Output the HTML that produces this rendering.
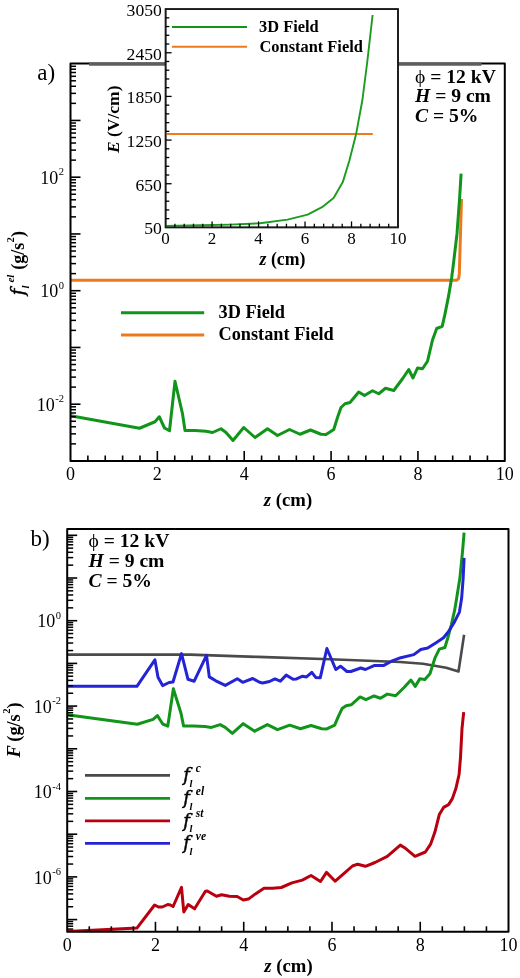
<!DOCTYPE html>
<html><head><meta charset="utf-8"><title>Plot</title>
<style>html,body{margin:0;padding:0;background:#fff;width:520px;height:978px;overflow:hidden}svg{display:block}</style>
</head><body>
<svg width="520" height="978" viewBox="0 0 520 978" font-family="'Liberation Serif', 'Times New Roman', serif">
<rect width="520" height="978" fill="#fff"/>
<polyline points="70.5,280.3 456.5,280.3 458.6,278.6 459.3,274 461.5,199" fill="none" stroke="#ec7a1c" stroke-width="3" stroke-linejoin="round" stroke-linecap="butt" />
<polyline points="70.5,415.75 139.5,428.25 155,421.75 159.25,416.75 164.5,428 169.5,430.75 175,381.25 182.5,413.75 185,430.5 195,430.5 206,431.25 212.5,432.5 221,428.75 226,432.5 233,440.5 243.75,427.5 255,437.5 267.5,428.75 277.5,435.5 289.5,429.5 300,434.25 310.5,430 321,434.25 326,434.5 333.75,429.5 337.5,417.5 341,407.5 345,403.75 350,402.5 358.75,392 364.5,395.5 372.5,390.75 378.75,393.75 385.5,388.25 393.75,390.5 402.5,378.75 408.75,369.5 413,378 417.5,368 422.5,368.75 427.5,361.25 432.5,340 436.7,328.5 442.2,326.3 444.9,314.4 448.6,295.9 451.7,277.4 453.3,265 457,233.7 459.7,196.8 461.1,173.7" fill="none" stroke="#10951a" stroke-width="3" stroke-linejoin="round" stroke-linecap="butt" />
<rect x="70.5" y="63.5" width="434.3" height="397.5" fill="none" stroke="#000" stroke-width="2" stroke-linejoin="round"/>
<line x1="89" y1="64.1" x2="481.5" y2="64.1" stroke="#5e5e5e" stroke-width="3.4" stroke-linecap="butt"/>
<line x1="70.5" y1="460.95" x2="80.5" y2="460.95" stroke="#000" stroke-width="1.6" stroke-linecap="butt"/>
<line x1="70.5" y1="443.87" x2="76" y2="443.87" stroke="#000" stroke-width="1.5" stroke-linecap="butt"/>
<line x1="70.5" y1="433.87" x2="76" y2="433.87" stroke="#000" stroke-width="1.5" stroke-linecap="butt"/>
<line x1="70.5" y1="426.78" x2="76" y2="426.78" stroke="#000" stroke-width="1.5" stroke-linecap="butt"/>
<line x1="70.5" y1="421.28" x2="76" y2="421.28" stroke="#000" stroke-width="1.5" stroke-linecap="butt"/>
<line x1="70.5" y1="416.79" x2="76" y2="416.79" stroke="#000" stroke-width="1.5" stroke-linecap="butt"/>
<line x1="70.5" y1="412.99" x2="76" y2="412.99" stroke="#000" stroke-width="1.5" stroke-linecap="butt"/>
<line x1="70.5" y1="409.7" x2="76" y2="409.7" stroke="#000" stroke-width="1.5" stroke-linecap="butt"/>
<line x1="70.5" y1="406.8" x2="76" y2="406.8" stroke="#000" stroke-width="1.5" stroke-linecap="butt"/>
<line x1="70.5" y1="404.2" x2="80.5" y2="404.2" stroke="#000" stroke-width="1.6" stroke-linecap="butt"/>
<line x1="70.5" y1="387.12" x2="76" y2="387.12" stroke="#000" stroke-width="1.5" stroke-linecap="butt"/>
<line x1="70.5" y1="377.12" x2="76" y2="377.12" stroke="#000" stroke-width="1.5" stroke-linecap="butt"/>
<line x1="70.5" y1="370.03" x2="76" y2="370.03" stroke="#000" stroke-width="1.5" stroke-linecap="butt"/>
<line x1="70.5" y1="364.53" x2="76" y2="364.53" stroke="#000" stroke-width="1.5" stroke-linecap="butt"/>
<line x1="70.5" y1="360.04" x2="76" y2="360.04" stroke="#000" stroke-width="1.5" stroke-linecap="butt"/>
<line x1="70.5" y1="356.24" x2="76" y2="356.24" stroke="#000" stroke-width="1.5" stroke-linecap="butt"/>
<line x1="70.5" y1="352.95" x2="76" y2="352.95" stroke="#000" stroke-width="1.5" stroke-linecap="butt"/>
<line x1="70.5" y1="350.05" x2="76" y2="350.05" stroke="#000" stroke-width="1.5" stroke-linecap="butt"/>
<line x1="70.5" y1="347.45" x2="80.5" y2="347.45" stroke="#000" stroke-width="1.6" stroke-linecap="butt"/>
<line x1="70.5" y1="330.37" x2="76" y2="330.37" stroke="#000" stroke-width="1.5" stroke-linecap="butt"/>
<line x1="70.5" y1="320.37" x2="76" y2="320.37" stroke="#000" stroke-width="1.5" stroke-linecap="butt"/>
<line x1="70.5" y1="313.28" x2="76" y2="313.28" stroke="#000" stroke-width="1.5" stroke-linecap="butt"/>
<line x1="70.5" y1="307.78" x2="76" y2="307.78" stroke="#000" stroke-width="1.5" stroke-linecap="butt"/>
<line x1="70.5" y1="303.29" x2="76" y2="303.29" stroke="#000" stroke-width="1.5" stroke-linecap="butt"/>
<line x1="70.5" y1="299.49" x2="76" y2="299.49" stroke="#000" stroke-width="1.5" stroke-linecap="butt"/>
<line x1="70.5" y1="296.2" x2="76" y2="296.2" stroke="#000" stroke-width="1.5" stroke-linecap="butt"/>
<line x1="70.5" y1="293.3" x2="76" y2="293.3" stroke="#000" stroke-width="1.5" stroke-linecap="butt"/>
<line x1="70.5" y1="290.7" x2="80.5" y2="290.7" stroke="#000" stroke-width="1.6" stroke-linecap="butt"/>
<line x1="70.5" y1="273.62" x2="76" y2="273.62" stroke="#000" stroke-width="1.5" stroke-linecap="butt"/>
<line x1="70.5" y1="263.62" x2="76" y2="263.62" stroke="#000" stroke-width="1.5" stroke-linecap="butt"/>
<line x1="70.5" y1="256.53" x2="76" y2="256.53" stroke="#000" stroke-width="1.5" stroke-linecap="butt"/>
<line x1="70.5" y1="251.03" x2="76" y2="251.03" stroke="#000" stroke-width="1.5" stroke-linecap="butt"/>
<line x1="70.5" y1="246.54" x2="76" y2="246.54" stroke="#000" stroke-width="1.5" stroke-linecap="butt"/>
<line x1="70.5" y1="242.74" x2="76" y2="242.74" stroke="#000" stroke-width="1.5" stroke-linecap="butt"/>
<line x1="70.5" y1="239.45" x2="76" y2="239.45" stroke="#000" stroke-width="1.5" stroke-linecap="butt"/>
<line x1="70.5" y1="236.55" x2="76" y2="236.55" stroke="#000" stroke-width="1.5" stroke-linecap="butt"/>
<line x1="70.5" y1="233.95" x2="80.5" y2="233.95" stroke="#000" stroke-width="1.6" stroke-linecap="butt"/>
<line x1="70.5" y1="216.87" x2="76" y2="216.87" stroke="#000" stroke-width="1.5" stroke-linecap="butt"/>
<line x1="70.5" y1="206.87" x2="76" y2="206.87" stroke="#000" stroke-width="1.5" stroke-linecap="butt"/>
<line x1="70.5" y1="199.78" x2="76" y2="199.78" stroke="#000" stroke-width="1.5" stroke-linecap="butt"/>
<line x1="70.5" y1="194.28" x2="76" y2="194.28" stroke="#000" stroke-width="1.5" stroke-linecap="butt"/>
<line x1="70.5" y1="189.79" x2="76" y2="189.79" stroke="#000" stroke-width="1.5" stroke-linecap="butt"/>
<line x1="70.5" y1="185.99" x2="76" y2="185.99" stroke="#000" stroke-width="1.5" stroke-linecap="butt"/>
<line x1="70.5" y1="182.7" x2="76" y2="182.7" stroke="#000" stroke-width="1.5" stroke-linecap="butt"/>
<line x1="70.5" y1="179.8" x2="76" y2="179.8" stroke="#000" stroke-width="1.5" stroke-linecap="butt"/>
<line x1="70.5" y1="177.2" x2="80.5" y2="177.2" stroke="#000" stroke-width="1.6" stroke-linecap="butt"/>
<line x1="70.5" y1="160.12" x2="76" y2="160.12" stroke="#000" stroke-width="1.5" stroke-linecap="butt"/>
<line x1="70.5" y1="150.12" x2="76" y2="150.12" stroke="#000" stroke-width="1.5" stroke-linecap="butt"/>
<line x1="70.5" y1="143.03" x2="76" y2="143.03" stroke="#000" stroke-width="1.5" stroke-linecap="butt"/>
<line x1="70.5" y1="137.53" x2="76" y2="137.53" stroke="#000" stroke-width="1.5" stroke-linecap="butt"/>
<line x1="70.5" y1="133.04" x2="76" y2="133.04" stroke="#000" stroke-width="1.5" stroke-linecap="butt"/>
<line x1="70.5" y1="129.24" x2="76" y2="129.24" stroke="#000" stroke-width="1.5" stroke-linecap="butt"/>
<line x1="70.5" y1="125.95" x2="76" y2="125.95" stroke="#000" stroke-width="1.5" stroke-linecap="butt"/>
<line x1="70.5" y1="123.05" x2="76" y2="123.05" stroke="#000" stroke-width="1.5" stroke-linecap="butt"/>
<line x1="70.5" y1="120.45" x2="80.5" y2="120.45" stroke="#000" stroke-width="1.6" stroke-linecap="butt"/>
<line x1="70.5" y1="103.37" x2="76" y2="103.37" stroke="#000" stroke-width="1.5" stroke-linecap="butt"/>
<line x1="70.5" y1="93.37" x2="76" y2="93.37" stroke="#000" stroke-width="1.5" stroke-linecap="butt"/>
<line x1="70.5" y1="86.28" x2="76" y2="86.28" stroke="#000" stroke-width="1.5" stroke-linecap="butt"/>
<line x1="70.5" y1="80.78" x2="76" y2="80.78" stroke="#000" stroke-width="1.5" stroke-linecap="butt"/>
<line x1="70.5" y1="76.29" x2="76" y2="76.29" stroke="#000" stroke-width="1.5" stroke-linecap="butt"/>
<line x1="70.5" y1="72.49" x2="76" y2="72.49" stroke="#000" stroke-width="1.5" stroke-linecap="butt"/>
<line x1="70.5" y1="69.2" x2="76" y2="69.2" stroke="#000" stroke-width="1.5" stroke-linecap="butt"/>
<line x1="70.5" y1="66.3" x2="76" y2="66.3" stroke="#000" stroke-width="1.5" stroke-linecap="butt"/>
<line x1="87.87" y1="461" x2="87.87" y2="455.5" stroke="#000" stroke-width="1.6" stroke-linecap="butt"/>
<line x1="105.24" y1="461" x2="105.24" y2="455.5" stroke="#000" stroke-width="1.6" stroke-linecap="butt"/>
<line x1="122.62" y1="461" x2="122.62" y2="455.5" stroke="#000" stroke-width="1.6" stroke-linecap="butt"/>
<line x1="139.99" y1="461" x2="139.99" y2="455.5" stroke="#000" stroke-width="1.6" stroke-linecap="butt"/>
<line x1="157.36" y1="461" x2="157.36" y2="451" stroke="#000" stroke-width="1.6" stroke-linecap="butt"/>
<line x1="174.73" y1="461" x2="174.73" y2="455.5" stroke="#000" stroke-width="1.6" stroke-linecap="butt"/>
<line x1="192.1" y1="461" x2="192.1" y2="455.5" stroke="#000" stroke-width="1.6" stroke-linecap="butt"/>
<line x1="209.48" y1="461" x2="209.48" y2="455.5" stroke="#000" stroke-width="1.6" stroke-linecap="butt"/>
<line x1="226.85" y1="461" x2="226.85" y2="455.5" stroke="#000" stroke-width="1.6" stroke-linecap="butt"/>
<line x1="244.22" y1="461" x2="244.22" y2="451" stroke="#000" stroke-width="1.6" stroke-linecap="butt"/>
<line x1="261.59" y1="461" x2="261.59" y2="455.5" stroke="#000" stroke-width="1.6" stroke-linecap="butt"/>
<line x1="278.96" y1="461" x2="278.96" y2="455.5" stroke="#000" stroke-width="1.6" stroke-linecap="butt"/>
<line x1="296.34" y1="461" x2="296.34" y2="455.5" stroke="#000" stroke-width="1.6" stroke-linecap="butt"/>
<line x1="313.71" y1="461" x2="313.71" y2="455.5" stroke="#000" stroke-width="1.6" stroke-linecap="butt"/>
<line x1="331.08" y1="461" x2="331.08" y2="451" stroke="#000" stroke-width="1.6" stroke-linecap="butt"/>
<line x1="348.45" y1="461" x2="348.45" y2="455.5" stroke="#000" stroke-width="1.6" stroke-linecap="butt"/>
<line x1="365.82" y1="461" x2="365.82" y2="455.5" stroke="#000" stroke-width="1.6" stroke-linecap="butt"/>
<line x1="383.2" y1="461" x2="383.2" y2="455.5" stroke="#000" stroke-width="1.6" stroke-linecap="butt"/>
<line x1="400.57" y1="461" x2="400.57" y2="455.5" stroke="#000" stroke-width="1.6" stroke-linecap="butt"/>
<line x1="417.94" y1="461" x2="417.94" y2="451" stroke="#000" stroke-width="1.6" stroke-linecap="butt"/>
<line x1="435.31" y1="461" x2="435.31" y2="455.5" stroke="#000" stroke-width="1.6" stroke-linecap="butt"/>
<line x1="452.68" y1="461" x2="452.68" y2="455.5" stroke="#000" stroke-width="1.6" stroke-linecap="butt"/>
<line x1="470.06" y1="461" x2="470.06" y2="455.5" stroke="#000" stroke-width="1.6" stroke-linecap="butt"/>
<line x1="487.43" y1="461" x2="487.43" y2="455.5" stroke="#000" stroke-width="1.6" stroke-linecap="butt"/>
<text x="70.5" y="479.8" font-size="18" text-anchor="middle" font-weight="normal" font-style="normal" >0</text>
<text x="157.36" y="479.8" font-size="18" text-anchor="middle" font-weight="normal" font-style="normal" >2</text>
<text x="244.22" y="479.8" font-size="18" text-anchor="middle" font-weight="normal" font-style="normal" >4</text>
<text x="331.08" y="479.8" font-size="18" text-anchor="middle" font-weight="normal" font-style="normal" >6</text>
<text x="417.94" y="479.8" font-size="18" text-anchor="middle" font-weight="normal" font-style="normal" >8</text>
<text x="504.8" y="479.8" font-size="18" text-anchor="middle" font-weight="normal" font-style="normal" >10</text>
<text x="64" y="183.8" font-size="18" text-anchor="end">10<tspan font-size="10.5" dy="-8.6" dx="0.6">2</tspan></text>
<text x="64" y="297.3" font-size="18" text-anchor="end">10<tspan font-size="10.5" dy="-8.6" dx="0.6">0</tspan></text>
<text x="64" y="410.8" font-size="18" text-anchor="end">10<tspan font-size="10.5" dy="-8.6" dx="0.6">-2</tspan></text>
<text x="288" y="505.6" font-size="18.7" font-weight="bold" text-anchor="middle"><tspan font-style="italic">z</tspan> (cm)</text>
<g transform="translate(24,298) rotate(-90)" font-weight="bold"><text x="2.8" y="0" font-size="18" font-style="italic" font-weight="normal" font-family="DejaVu Serif, serif" stroke="#000" stroke-width="0.45">f</text><text x="9.6" y="5.2" font-size="10.5" font-style="italic">l</text><text x="15.4" y="-9.8" font-size="11.2" font-style="italic">el</text><text x="28.3" y="0" font-size="18">(g/s</text><text x="55.6" y="-9.6" font-size="10.5">2</text><text x="61" y="0" font-size="18">)</text></g>
<line x1="121" y1="312.7" x2="204.2" y2="312.7" stroke="#10951a" stroke-width="3" stroke-linecap="butt"/>
<line x1="121" y1="335.1" x2="204.2" y2="335.1" stroke="#ec7a1c" stroke-width="3" stroke-linecap="butt"/>
<text x="218.5" y="318.2" font-size="18.3" text-anchor="start" font-weight="bold" font-style="normal" >3D Field</text>
<text x="218.5" y="340.2" font-size="18.3" text-anchor="start" font-weight="bold" font-style="normal" >Constant Field</text>
<text transform="translate(415,83) scale(1.06,1)" font-size="18.5" font-weight="bold"><tspan font-weight="normal">ϕ</tspan> = 12 kV</text>
<text transform="translate(415,102.25) scale(1.06,1)" font-size="18.5" font-weight="bold"><tspan font-style="italic">H</tspan> = 9 cm</text>
<text transform="translate(415,121.5) scale(1.06,1)" font-size="18.5" font-weight="bold"><tspan font-style="italic">C</tspan> = 5%</text>
<text x="37.2" y="80.4" font-size="23" text-anchor="start" font-weight="normal" font-style="normal" >a)</text>
<rect x="165.6" y="9.1" width="232.4" height="218.3" fill="#fff" stroke="#000" stroke-width="1.6"/>
<line x1="165.6" y1="134.02" x2="372.76" y2="134.02" stroke="#ec7a1c" stroke-width="2" stroke-linecap="butt"/>
<polyline points="165.6,226 200,225.3 230,224.6 260,223.3 287.5,219.6 307.6,214.7 322,207.2 333.6,198 342.8,182.1 349.4,160.5 356,134.6 362.4,100 367.5,60 372.6,15" fill="none" stroke="#1a9c1f" stroke-width="1.9" stroke-linejoin="round" stroke-linecap="butt" />
<rect x="165.6" y="9.1" width="232.4" height="218.3" fill="none" stroke="#1a1a1a" stroke-width="1.5"/>
<line x1="165.6" y1="218.67" x2="169.3" y2="218.67" stroke="#000" stroke-width="1.3" stroke-linecap="butt"/>
<line x1="165.6" y1="209.94" x2="169.3" y2="209.94" stroke="#000" stroke-width="1.3" stroke-linecap="butt"/>
<line x1="165.6" y1="201.2" x2="169.3" y2="201.2" stroke="#000" stroke-width="1.3" stroke-linecap="butt"/>
<line x1="165.6" y1="192.47" x2="169.3" y2="192.47" stroke="#000" stroke-width="1.3" stroke-linecap="butt"/>
<line x1="165.6" y1="183.74" x2="171.6" y2="183.74" stroke="#000" stroke-width="1.3" stroke-linecap="butt"/>
<line x1="165.6" y1="175.01" x2="169.3" y2="175.01" stroke="#000" stroke-width="1.3" stroke-linecap="butt"/>
<line x1="165.6" y1="166.28" x2="169.3" y2="166.28" stroke="#000" stroke-width="1.3" stroke-linecap="butt"/>
<line x1="165.6" y1="157.54" x2="169.3" y2="157.54" stroke="#000" stroke-width="1.3" stroke-linecap="butt"/>
<line x1="165.6" y1="148.81" x2="169.3" y2="148.81" stroke="#000" stroke-width="1.3" stroke-linecap="butt"/>
<line x1="165.6" y1="140.08" x2="171.6" y2="140.08" stroke="#000" stroke-width="1.3" stroke-linecap="butt"/>
<line x1="165.6" y1="131.35" x2="169.3" y2="131.35" stroke="#000" stroke-width="1.3" stroke-linecap="butt"/>
<line x1="165.6" y1="122.62" x2="169.3" y2="122.62" stroke="#000" stroke-width="1.3" stroke-linecap="butt"/>
<line x1="165.6" y1="113.88" x2="169.3" y2="113.88" stroke="#000" stroke-width="1.3" stroke-linecap="butt"/>
<line x1="165.6" y1="105.15" x2="169.3" y2="105.15" stroke="#000" stroke-width="1.3" stroke-linecap="butt"/>
<line x1="165.6" y1="96.42" x2="171.6" y2="96.42" stroke="#000" stroke-width="1.3" stroke-linecap="butt"/>
<line x1="165.6" y1="87.69" x2="169.3" y2="87.69" stroke="#000" stroke-width="1.3" stroke-linecap="butt"/>
<line x1="165.6" y1="78.96" x2="169.3" y2="78.96" stroke="#000" stroke-width="1.3" stroke-linecap="butt"/>
<line x1="165.6" y1="70.22" x2="169.3" y2="70.22" stroke="#000" stroke-width="1.3" stroke-linecap="butt"/>
<line x1="165.6" y1="61.49" x2="169.3" y2="61.49" stroke="#000" stroke-width="1.3" stroke-linecap="butt"/>
<line x1="165.6" y1="52.76" x2="171.6" y2="52.76" stroke="#000" stroke-width="1.3" stroke-linecap="butt"/>
<line x1="165.6" y1="44.03" x2="169.3" y2="44.03" stroke="#000" stroke-width="1.3" stroke-linecap="butt"/>
<line x1="165.6" y1="35.3" x2="169.3" y2="35.3" stroke="#000" stroke-width="1.3" stroke-linecap="butt"/>
<line x1="165.6" y1="26.56" x2="169.3" y2="26.56" stroke="#000" stroke-width="1.3" stroke-linecap="butt"/>
<line x1="165.6" y1="17.83" x2="169.3" y2="17.83" stroke="#000" stroke-width="1.3" stroke-linecap="butt"/>
<text x="161.8" y="234.4" font-size="17.6" text-anchor="end" font-weight="normal" font-style="normal" >50</text>
<text x="161.8" y="190.74" font-size="17.6" text-anchor="end" font-weight="normal" font-style="normal" >650</text>
<text x="161.8" y="147.08" font-size="17.6" text-anchor="end" font-weight="normal" font-style="normal" >1250</text>
<text x="161.8" y="103.42" font-size="17.6" text-anchor="end" font-weight="normal" font-style="normal" >1850</text>
<text x="161.8" y="59.76" font-size="17.6" text-anchor="end" font-weight="normal" font-style="normal" >2450</text>
<text x="161.8" y="16.1" font-size="17.6" text-anchor="end" font-weight="normal" font-style="normal" >3050</text>
<line x1="174.9" y1="227.4" x2="174.9" y2="223.7" stroke="#000" stroke-width="1.3" stroke-linecap="butt"/>
<line x1="184.19" y1="227.4" x2="184.19" y2="223.7" stroke="#000" stroke-width="1.3" stroke-linecap="butt"/>
<line x1="193.49" y1="227.4" x2="193.49" y2="223.7" stroke="#000" stroke-width="1.3" stroke-linecap="butt"/>
<line x1="202.78" y1="227.4" x2="202.78" y2="223.7" stroke="#000" stroke-width="1.3" stroke-linecap="butt"/>
<line x1="212.08" y1="227.4" x2="212.08" y2="221.4" stroke="#000" stroke-width="1.3" stroke-linecap="butt"/>
<line x1="221.38" y1="227.4" x2="221.38" y2="223.7" stroke="#000" stroke-width="1.3" stroke-linecap="butt"/>
<line x1="230.67" y1="227.4" x2="230.67" y2="223.7" stroke="#000" stroke-width="1.3" stroke-linecap="butt"/>
<line x1="239.97" y1="227.4" x2="239.97" y2="223.7" stroke="#000" stroke-width="1.3" stroke-linecap="butt"/>
<line x1="249.26" y1="227.4" x2="249.26" y2="223.7" stroke="#000" stroke-width="1.3" stroke-linecap="butt"/>
<line x1="258.56" y1="227.4" x2="258.56" y2="221.4" stroke="#000" stroke-width="1.3" stroke-linecap="butt"/>
<line x1="267.86" y1="227.4" x2="267.86" y2="223.7" stroke="#000" stroke-width="1.3" stroke-linecap="butt"/>
<line x1="277.15" y1="227.4" x2="277.15" y2="223.7" stroke="#000" stroke-width="1.3" stroke-linecap="butt"/>
<line x1="286.45" y1="227.4" x2="286.45" y2="223.7" stroke="#000" stroke-width="1.3" stroke-linecap="butt"/>
<line x1="295.74" y1="227.4" x2="295.74" y2="223.7" stroke="#000" stroke-width="1.3" stroke-linecap="butt"/>
<line x1="305.04" y1="227.4" x2="305.04" y2="221.4" stroke="#000" stroke-width="1.3" stroke-linecap="butt"/>
<line x1="314.34" y1="227.4" x2="314.34" y2="223.7" stroke="#000" stroke-width="1.3" stroke-linecap="butt"/>
<line x1="323.63" y1="227.4" x2="323.63" y2="223.7" stroke="#000" stroke-width="1.3" stroke-linecap="butt"/>
<line x1="332.93" y1="227.4" x2="332.93" y2="223.7" stroke="#000" stroke-width="1.3" stroke-linecap="butt"/>
<line x1="342.22" y1="227.4" x2="342.22" y2="223.7" stroke="#000" stroke-width="1.3" stroke-linecap="butt"/>
<line x1="351.52" y1="227.4" x2="351.52" y2="221.4" stroke="#000" stroke-width="1.3" stroke-linecap="butt"/>
<line x1="360.82" y1="227.4" x2="360.82" y2="223.7" stroke="#000" stroke-width="1.3" stroke-linecap="butt"/>
<line x1="370.11" y1="227.4" x2="370.11" y2="223.7" stroke="#000" stroke-width="1.3" stroke-linecap="butt"/>
<line x1="379.41" y1="227.4" x2="379.41" y2="223.7" stroke="#000" stroke-width="1.3" stroke-linecap="butt"/>
<line x1="388.7" y1="227.4" x2="388.7" y2="223.7" stroke="#000" stroke-width="1.3" stroke-linecap="butt"/>
<text x="165.6" y="243.6" font-size="17" text-anchor="middle" font-weight="normal" font-style="normal" >0</text>
<text x="212.08" y="243.6" font-size="17" text-anchor="middle" font-weight="normal" font-style="normal" >2</text>
<text x="258.56" y="243.6" font-size="17" text-anchor="middle" font-weight="normal" font-style="normal" >4</text>
<text x="305.04" y="243.6" font-size="17" text-anchor="middle" font-weight="normal" font-style="normal" >6</text>
<text x="351.52" y="243.6" font-size="17" text-anchor="middle" font-weight="normal" font-style="normal" >8</text>
<text x="398" y="243.6" font-size="17" text-anchor="middle" font-weight="normal" font-style="normal" >10</text>
<text x="282.5" y="264.8" font-size="17.8" font-weight="bold" text-anchor="middle"><tspan font-style="italic">z</tspan> (cm)</text>
<text transform="translate(118.8,119.3) rotate(-90)" font-size="17.5" font-weight="bold" text-anchor="middle"><tspan font-style="italic">E</tspan> (V/cm)</text>
<line x1="172" y1="27" x2="247" y2="27" stroke="#10951a" stroke-width="2" stroke-linecap="butt"/>
<line x1="172" y1="46.7" x2="247" y2="46.7" stroke="#ec7a1c" stroke-width="2" stroke-linecap="butt"/>
<text x="259" y="32.2" font-size="16.4" text-anchor="start" font-weight="bold" font-style="normal" >3D Field</text>
<text x="259.5" y="51.7" font-size="16.4" text-anchor="start" font-weight="bold" font-style="normal" >Constant Field</text>
<clipPath id="cb"><rect x="67.2" y="529.0" width="441.3" height="402.8"/></clipPath>
<g clip-path="url(#cb)">
<polyline points="67.2,654.6 190,654.6 258,656.9 330,659.2 400,662 423,663.8 446.2,667.7 458.5,671.5 464.1,634.8" fill="none" stroke="#4a4a4a" stroke-width="2.6" stroke-linejoin="round" stroke-linecap="butt" />
<polyline points="67.2,931.6 136.9,928.1 154.6,905 158.5,907 162.3,907 167.7,904.5 170.3,905 173.1,906.5 181.5,887.3 183.8,911.9 188.2,904.5 194.6,908.8 205.4,891.2 207.3,891 216.4,896.2 221.6,894.8 229.4,896.2 237.2,896.5 243.3,900 248.4,899.1 255.4,893.9 264,888.2 272.7,888.2 281.3,887.5 291.9,882.9 302.3,880.1 311,875.5 320.5,881.5 326.5,872.4 335.2,881.2 343.8,873.7 352.5,866 357.7,864.2 365.4,866.3 375,862.5 387.3,856.3 400.3,845.1 404.6,847.7 415,856.3 425.4,852 430.6,844.2 434.9,832.1 439.3,814.6 443.6,807.4 448.6,804.6 452.2,798.9 455.8,788.8 459.1,774.5 460.5,757.3 462,728.7 463.7,712.2" fill="none" stroke="#b8000e" stroke-width="3" stroke-linejoin="round" stroke-linecap="butt" />
<polyline points="67.2,714.79 137.31,724.2 153.06,719.31 157.38,715.54 162.72,724.01 167.8,726.08 173.38,688.83 181.01,713.29 183.55,725.89 193.71,725.89 204.88,726.45 211.49,727.39 220.13,724.57 225.21,727.39 232.32,733.41 243.24,723.63 254.67,731.16 267.38,724.57 277.54,729.65 289.73,725.14 300.4,728.71 311.07,725.51 321.74,728.71 326.82,728.9 334.69,725.14 338.5,716.11 342.06,708.58 346.12,705.76 351.2,704.82 360.1,696.92 365.94,699.55 374.07,695.98 380.42,698.24 387.28,694.1 395.66,695.79 404.55,686.95 410.9,679.99 415.22,686.39 419.79,678.86 424.87,679.43 429.95,673.78 435.03,657.79 439.3,649.14 444.89,647.49 447.63,638.53 451.39,624.61 454.54,610.69 456.17,601.36 459.93,577.81 462.67,550.05 464.1,532.67" fill="none" stroke="#10951a" stroke-width="3" stroke-linejoin="round" stroke-linecap="butt" />
<polyline points="67.2,686.3 136.9,686.3 154.9,659.8 158,677.3 162.6,685.6 169.1,682.5 173,682 181.5,653.6 188,679.3 194.2,681.2 206.5,655.4 209.3,676.9 215.8,680.8 225.3,685.4 237.3,678.8 242.7,682.3 252.7,678.5 259.6,682.3 262.6,683 269.5,681.5 274.9,678.9 280.3,681.2 286.2,675.1 293.1,679.2 296.5,678.9 302.6,676.2 306.5,676.9 311.8,672.3 315.7,677.4 320.3,677.7 326.9,648.5 335.8,669.5 340.5,666.2 346.9,671.5 350.8,671.5 360.8,668 365.4,669.5 374.6,665.4 383.8,665.4 391.5,661.2 400.8,657.7 413.8,654.6 420.8,649.5 427.7,648 436.1,642.7 443.5,637.8 448.4,631.7 454.5,621.9 459.4,612.1 461.6,598.6 463.1,579 464.1,557.9" fill="none" stroke="#2424d6" stroke-width="3" stroke-linejoin="round" stroke-linecap="butt" />
</g>
<rect x="67.2" y="529.0" width="441.3" height="402.8" fill="none" stroke="#000" stroke-width="2" stroke-linejoin="round"/>
<line x1="67.2" y1="929.07" x2="73.2" y2="929.07" stroke="#000" stroke-width="1.5" stroke-linecap="butt"/>
<line x1="67.2" y1="926.21" x2="73.2" y2="926.21" stroke="#000" stroke-width="1.5" stroke-linecap="butt"/>
<line x1="67.2" y1="923.74" x2="73.2" y2="923.74" stroke="#000" stroke-width="1.5" stroke-linecap="butt"/>
<line x1="67.2" y1="921.55" x2="73.2" y2="921.55" stroke="#000" stroke-width="1.5" stroke-linecap="butt"/>
<line x1="67.2" y1="919.6" x2="77.2" y2="919.6" stroke="#000" stroke-width="1.6" stroke-linecap="butt"/>
<line x1="67.2" y1="906.75" x2="73.2" y2="906.75" stroke="#000" stroke-width="1.5" stroke-linecap="butt"/>
<line x1="67.2" y1="899.23" x2="73.2" y2="899.23" stroke="#000" stroke-width="1.5" stroke-linecap="butt"/>
<line x1="67.2" y1="893.89" x2="73.2" y2="893.89" stroke="#000" stroke-width="1.5" stroke-linecap="butt"/>
<line x1="67.2" y1="889.75" x2="73.2" y2="889.75" stroke="#000" stroke-width="1.5" stroke-linecap="butt"/>
<line x1="67.2" y1="886.37" x2="73.2" y2="886.37" stroke="#000" stroke-width="1.5" stroke-linecap="butt"/>
<line x1="67.2" y1="883.51" x2="73.2" y2="883.51" stroke="#000" stroke-width="1.5" stroke-linecap="butt"/>
<line x1="67.2" y1="881.04" x2="73.2" y2="881.04" stroke="#000" stroke-width="1.5" stroke-linecap="butt"/>
<line x1="67.2" y1="878.85" x2="73.2" y2="878.85" stroke="#000" stroke-width="1.5" stroke-linecap="butt"/>
<line x1="67.2" y1="876.9" x2="77.2" y2="876.9" stroke="#000" stroke-width="1.6" stroke-linecap="butt"/>
<line x1="67.2" y1="864.05" x2="73.2" y2="864.05" stroke="#000" stroke-width="1.5" stroke-linecap="butt"/>
<line x1="67.2" y1="856.53" x2="73.2" y2="856.53" stroke="#000" stroke-width="1.5" stroke-linecap="butt"/>
<line x1="67.2" y1="851.19" x2="73.2" y2="851.19" stroke="#000" stroke-width="1.5" stroke-linecap="butt"/>
<line x1="67.2" y1="847.05" x2="73.2" y2="847.05" stroke="#000" stroke-width="1.5" stroke-linecap="butt"/>
<line x1="67.2" y1="843.67" x2="73.2" y2="843.67" stroke="#000" stroke-width="1.5" stroke-linecap="butt"/>
<line x1="67.2" y1="840.81" x2="73.2" y2="840.81" stroke="#000" stroke-width="1.5" stroke-linecap="butt"/>
<line x1="67.2" y1="838.34" x2="73.2" y2="838.34" stroke="#000" stroke-width="1.5" stroke-linecap="butt"/>
<line x1="67.2" y1="836.15" x2="73.2" y2="836.15" stroke="#000" stroke-width="1.5" stroke-linecap="butt"/>
<line x1="67.2" y1="834.2" x2="77.2" y2="834.2" stroke="#000" stroke-width="1.6" stroke-linecap="butt"/>
<line x1="67.2" y1="821.35" x2="73.2" y2="821.35" stroke="#000" stroke-width="1.5" stroke-linecap="butt"/>
<line x1="67.2" y1="813.83" x2="73.2" y2="813.83" stroke="#000" stroke-width="1.5" stroke-linecap="butt"/>
<line x1="67.2" y1="808.49" x2="73.2" y2="808.49" stroke="#000" stroke-width="1.5" stroke-linecap="butt"/>
<line x1="67.2" y1="804.35" x2="73.2" y2="804.35" stroke="#000" stroke-width="1.5" stroke-linecap="butt"/>
<line x1="67.2" y1="800.97" x2="73.2" y2="800.97" stroke="#000" stroke-width="1.5" stroke-linecap="butt"/>
<line x1="67.2" y1="798.11" x2="73.2" y2="798.11" stroke="#000" stroke-width="1.5" stroke-linecap="butt"/>
<line x1="67.2" y1="795.64" x2="73.2" y2="795.64" stroke="#000" stroke-width="1.5" stroke-linecap="butt"/>
<line x1="67.2" y1="793.45" x2="73.2" y2="793.45" stroke="#000" stroke-width="1.5" stroke-linecap="butt"/>
<line x1="67.2" y1="791.5" x2="77.2" y2="791.5" stroke="#000" stroke-width="1.6" stroke-linecap="butt"/>
<line x1="67.2" y1="778.65" x2="73.2" y2="778.65" stroke="#000" stroke-width="1.5" stroke-linecap="butt"/>
<line x1="67.2" y1="771.13" x2="73.2" y2="771.13" stroke="#000" stroke-width="1.5" stroke-linecap="butt"/>
<line x1="67.2" y1="765.79" x2="73.2" y2="765.79" stroke="#000" stroke-width="1.5" stroke-linecap="butt"/>
<line x1="67.2" y1="761.65" x2="73.2" y2="761.65" stroke="#000" stroke-width="1.5" stroke-linecap="butt"/>
<line x1="67.2" y1="758.27" x2="73.2" y2="758.27" stroke="#000" stroke-width="1.5" stroke-linecap="butt"/>
<line x1="67.2" y1="755.41" x2="73.2" y2="755.41" stroke="#000" stroke-width="1.5" stroke-linecap="butt"/>
<line x1="67.2" y1="752.94" x2="73.2" y2="752.94" stroke="#000" stroke-width="1.5" stroke-linecap="butt"/>
<line x1="67.2" y1="750.75" x2="73.2" y2="750.75" stroke="#000" stroke-width="1.5" stroke-linecap="butt"/>
<line x1="67.2" y1="748.8" x2="77.2" y2="748.8" stroke="#000" stroke-width="1.6" stroke-linecap="butt"/>
<line x1="67.2" y1="735.95" x2="73.2" y2="735.95" stroke="#000" stroke-width="1.5" stroke-linecap="butt"/>
<line x1="67.2" y1="728.43" x2="73.2" y2="728.43" stroke="#000" stroke-width="1.5" stroke-linecap="butt"/>
<line x1="67.2" y1="723.09" x2="73.2" y2="723.09" stroke="#000" stroke-width="1.5" stroke-linecap="butt"/>
<line x1="67.2" y1="718.95" x2="73.2" y2="718.95" stroke="#000" stroke-width="1.5" stroke-linecap="butt"/>
<line x1="67.2" y1="715.57" x2="73.2" y2="715.57" stroke="#000" stroke-width="1.5" stroke-linecap="butt"/>
<line x1="67.2" y1="712.71" x2="73.2" y2="712.71" stroke="#000" stroke-width="1.5" stroke-linecap="butt"/>
<line x1="67.2" y1="710.24" x2="73.2" y2="710.24" stroke="#000" stroke-width="1.5" stroke-linecap="butt"/>
<line x1="67.2" y1="708.05" x2="73.2" y2="708.05" stroke="#000" stroke-width="1.5" stroke-linecap="butt"/>
<line x1="67.2" y1="706.1" x2="77.2" y2="706.1" stroke="#000" stroke-width="1.6" stroke-linecap="butt"/>
<line x1="67.2" y1="693.25" x2="73.2" y2="693.25" stroke="#000" stroke-width="1.5" stroke-linecap="butt"/>
<line x1="67.2" y1="685.73" x2="73.2" y2="685.73" stroke="#000" stroke-width="1.5" stroke-linecap="butt"/>
<line x1="67.2" y1="680.39" x2="73.2" y2="680.39" stroke="#000" stroke-width="1.5" stroke-linecap="butt"/>
<line x1="67.2" y1="676.25" x2="73.2" y2="676.25" stroke="#000" stroke-width="1.5" stroke-linecap="butt"/>
<line x1="67.2" y1="672.87" x2="73.2" y2="672.87" stroke="#000" stroke-width="1.5" stroke-linecap="butt"/>
<line x1="67.2" y1="670.01" x2="73.2" y2="670.01" stroke="#000" stroke-width="1.5" stroke-linecap="butt"/>
<line x1="67.2" y1="667.54" x2="73.2" y2="667.54" stroke="#000" stroke-width="1.5" stroke-linecap="butt"/>
<line x1="67.2" y1="665.35" x2="73.2" y2="665.35" stroke="#000" stroke-width="1.5" stroke-linecap="butt"/>
<line x1="67.2" y1="663.4" x2="77.2" y2="663.4" stroke="#000" stroke-width="1.6" stroke-linecap="butt"/>
<line x1="67.2" y1="650.55" x2="73.2" y2="650.55" stroke="#000" stroke-width="1.5" stroke-linecap="butt"/>
<line x1="67.2" y1="643.03" x2="73.2" y2="643.03" stroke="#000" stroke-width="1.5" stroke-linecap="butt"/>
<line x1="67.2" y1="637.69" x2="73.2" y2="637.69" stroke="#000" stroke-width="1.5" stroke-linecap="butt"/>
<line x1="67.2" y1="633.55" x2="73.2" y2="633.55" stroke="#000" stroke-width="1.5" stroke-linecap="butt"/>
<line x1="67.2" y1="630.17" x2="73.2" y2="630.17" stroke="#000" stroke-width="1.5" stroke-linecap="butt"/>
<line x1="67.2" y1="627.31" x2="73.2" y2="627.31" stroke="#000" stroke-width="1.5" stroke-linecap="butt"/>
<line x1="67.2" y1="624.84" x2="73.2" y2="624.84" stroke="#000" stroke-width="1.5" stroke-linecap="butt"/>
<line x1="67.2" y1="622.65" x2="73.2" y2="622.65" stroke="#000" stroke-width="1.5" stroke-linecap="butt"/>
<line x1="67.2" y1="620.7" x2="77.2" y2="620.7" stroke="#000" stroke-width="1.6" stroke-linecap="butt"/>
<line x1="67.2" y1="607.85" x2="73.2" y2="607.85" stroke="#000" stroke-width="1.5" stroke-linecap="butt"/>
<line x1="67.2" y1="600.33" x2="73.2" y2="600.33" stroke="#000" stroke-width="1.5" stroke-linecap="butt"/>
<line x1="67.2" y1="594.99" x2="73.2" y2="594.99" stroke="#000" stroke-width="1.5" stroke-linecap="butt"/>
<line x1="67.2" y1="590.85" x2="73.2" y2="590.85" stroke="#000" stroke-width="1.5" stroke-linecap="butt"/>
<line x1="67.2" y1="587.47" x2="73.2" y2="587.47" stroke="#000" stroke-width="1.5" stroke-linecap="butt"/>
<line x1="67.2" y1="584.61" x2="73.2" y2="584.61" stroke="#000" stroke-width="1.5" stroke-linecap="butt"/>
<line x1="67.2" y1="582.14" x2="73.2" y2="582.14" stroke="#000" stroke-width="1.5" stroke-linecap="butt"/>
<line x1="67.2" y1="579.95" x2="73.2" y2="579.95" stroke="#000" stroke-width="1.5" stroke-linecap="butt"/>
<line x1="67.2" y1="578" x2="77.2" y2="578" stroke="#000" stroke-width="1.6" stroke-linecap="butt"/>
<line x1="67.2" y1="565.15" x2="73.2" y2="565.15" stroke="#000" stroke-width="1.5" stroke-linecap="butt"/>
<line x1="67.2" y1="557.63" x2="73.2" y2="557.63" stroke="#000" stroke-width="1.5" stroke-linecap="butt"/>
<line x1="67.2" y1="552.29" x2="73.2" y2="552.29" stroke="#000" stroke-width="1.5" stroke-linecap="butt"/>
<line x1="67.2" y1="548.15" x2="73.2" y2="548.15" stroke="#000" stroke-width="1.5" stroke-linecap="butt"/>
<line x1="67.2" y1="544.77" x2="73.2" y2="544.77" stroke="#000" stroke-width="1.5" stroke-linecap="butt"/>
<line x1="67.2" y1="541.91" x2="73.2" y2="541.91" stroke="#000" stroke-width="1.5" stroke-linecap="butt"/>
<line x1="67.2" y1="539.44" x2="73.2" y2="539.44" stroke="#000" stroke-width="1.5" stroke-linecap="butt"/>
<line x1="67.2" y1="537.25" x2="73.2" y2="537.25" stroke="#000" stroke-width="1.5" stroke-linecap="butt"/>
<line x1="67.2" y1="535.3" x2="77.2" y2="535.3" stroke="#000" stroke-width="1.6" stroke-linecap="butt"/>
<line x1="89.27" y1="931.8" x2="89.27" y2="926.3" stroke="#000" stroke-width="1.6" stroke-linecap="butt"/>
<line x1="111.33" y1="931.8" x2="111.33" y2="926.3" stroke="#000" stroke-width="1.6" stroke-linecap="butt"/>
<line x1="133.4" y1="931.8" x2="133.4" y2="926.3" stroke="#000" stroke-width="1.6" stroke-linecap="butt"/>
<line x1="155.46" y1="931.8" x2="155.46" y2="921.8" stroke="#000" stroke-width="1.6" stroke-linecap="butt"/>
<line x1="177.53" y1="931.8" x2="177.53" y2="926.3" stroke="#000" stroke-width="1.6" stroke-linecap="butt"/>
<line x1="199.59" y1="931.8" x2="199.59" y2="926.3" stroke="#000" stroke-width="1.6" stroke-linecap="butt"/>
<line x1="221.65" y1="931.8" x2="221.65" y2="926.3" stroke="#000" stroke-width="1.6" stroke-linecap="butt"/>
<line x1="243.72" y1="931.8" x2="243.72" y2="921.8" stroke="#000" stroke-width="1.6" stroke-linecap="butt"/>
<line x1="265.79" y1="931.8" x2="265.79" y2="926.3" stroke="#000" stroke-width="1.6" stroke-linecap="butt"/>
<line x1="287.85" y1="931.8" x2="287.85" y2="926.3" stroke="#000" stroke-width="1.6" stroke-linecap="butt"/>
<line x1="309.92" y1="931.8" x2="309.92" y2="926.3" stroke="#000" stroke-width="1.6" stroke-linecap="butt"/>
<line x1="331.98" y1="931.8" x2="331.98" y2="921.8" stroke="#000" stroke-width="1.6" stroke-linecap="butt"/>
<line x1="354.05" y1="931.8" x2="354.05" y2="926.3" stroke="#000" stroke-width="1.6" stroke-linecap="butt"/>
<line x1="376.11" y1="931.8" x2="376.11" y2="926.3" stroke="#000" stroke-width="1.6" stroke-linecap="butt"/>
<line x1="398.18" y1="931.8" x2="398.18" y2="926.3" stroke="#000" stroke-width="1.6" stroke-linecap="butt"/>
<line x1="420.24" y1="931.8" x2="420.24" y2="921.8" stroke="#000" stroke-width="1.6" stroke-linecap="butt"/>
<line x1="442.31" y1="931.8" x2="442.31" y2="926.3" stroke="#000" stroke-width="1.6" stroke-linecap="butt"/>
<line x1="464.37" y1="931.8" x2="464.37" y2="926.3" stroke="#000" stroke-width="1.6" stroke-linecap="butt"/>
<line x1="486.44" y1="931.8" x2="486.44" y2="926.3" stroke="#000" stroke-width="1.6" stroke-linecap="butt"/>
<text x="67.2" y="951" font-size="18" text-anchor="middle" font-weight="normal" font-style="normal" >0</text>
<text x="155.46" y="951" font-size="18" text-anchor="middle" font-weight="normal" font-style="normal" >2</text>
<text x="243.72" y="951" font-size="18" text-anchor="middle" font-weight="normal" font-style="normal" >4</text>
<text x="331.98" y="951" font-size="18" text-anchor="middle" font-weight="normal" font-style="normal" >6</text>
<text x="420.24" y="951" font-size="18" text-anchor="middle" font-weight="normal" font-style="normal" >8</text>
<text x="508.5" y="951" font-size="18" text-anchor="middle" font-weight="normal" font-style="normal" >10</text>
<text x="61" y="627.3" font-size="18" text-anchor="end">10<tspan font-size="10.5" dy="-8.6" dx="0.6">0</tspan></text>
<text x="61" y="712.7" font-size="18" text-anchor="end">10<tspan font-size="10.5" dy="-8.6" dx="0.6">-2</tspan></text>
<text x="61" y="798.1" font-size="18" text-anchor="end">10<tspan font-size="10.5" dy="-8.6" dx="0.6">-4</tspan></text>
<text x="61" y="883.5" font-size="18" text-anchor="end">10<tspan font-size="10.5" dy="-8.6" dx="0.6">-6</tspan></text>
<text x="288.5" y="971.6" font-size="18.7" font-weight="bold" text-anchor="middle"><tspan font-style="italic">z</tspan> (cm)</text>
<g transform="translate(20,758.4) rotate(-90)" font-weight="bold"><text x="0.8" y="0" font-size="18.5" font-style="italic">F</text><text x="16.7" y="0" font-size="18.3">(g/s</text><text x="44.6" y="-10.5" font-size="10.5">2</text><text x="50" y="0" font-size="18.3">)</text></g>
<text transform="translate(88.5,547.2) scale(1.06,1)" font-size="18.5" font-weight="bold"><tspan font-weight="normal">ϕ</tspan> = 12 kV</text>
<text transform="translate(88.5,567.3) scale(1.06,1)" font-size="18.5" font-weight="bold"><tspan font-style="italic">H</tspan> = 9 cm</text>
<text transform="translate(88.5,587.4) scale(1.06,1)" font-size="18.5" font-weight="bold"><tspan font-style="italic">C</tspan> = 5%</text>
<text x="30.4" y="546" font-size="23" text-anchor="start" font-weight="normal" font-style="normal" >b)</text>
<line x1="85" y1="775.4" x2="170" y2="775.4" stroke="#4a4a4a" stroke-width="2.8" stroke-linecap="butt"/>
<g font-weight="bold" font-style="italic"><text x="183.2" y="781.3" font-size="18" font-weight="normal" font-family="DejaVu Serif, serif" stroke="#000" stroke-width="0.45">f</text><text x="189.6" y="786.6" font-size="10.5">l</text><text x="195.8" y="771.6" font-size="11.5">c</text></g>
<line x1="85" y1="798.3" x2="170" y2="798.3" stroke="#10951a" stroke-width="2.8" stroke-linecap="butt"/>
<g font-weight="bold" font-style="italic"><text x="183.2" y="804.2" font-size="18" font-weight="normal" font-family="DejaVu Serif, serif" stroke="#000" stroke-width="0.45">f</text><text x="189.6" y="809.5" font-size="10.5">l</text><text x="195.8" y="794.5" font-size="11.5">el</text></g>
<line x1="85" y1="820.8" x2="170" y2="820.8" stroke="#b8000e" stroke-width="2.8" stroke-linecap="butt"/>
<g font-weight="bold" font-style="italic"><text x="183.2" y="826.7" font-size="18" font-weight="normal" font-family="DejaVu Serif, serif" stroke="#000" stroke-width="0.45">f</text><text x="189.6" y="832" font-size="10.5">l</text><text x="195.8" y="817" font-size="11.5">st</text></g>
<line x1="85" y1="843.4" x2="170" y2="843.4" stroke="#2424d6" stroke-width="2.8" stroke-linecap="butt"/>
<g font-weight="bold" font-style="italic"><text x="183.2" y="849.3" font-size="18" font-weight="normal" font-family="DejaVu Serif, serif" stroke="#000" stroke-width="0.45">f</text><text x="189.6" y="854.6" font-size="10.5">l</text><text x="195.8" y="839.6" font-size="11.5">ve</text></g>
</svg>
</body></html>
